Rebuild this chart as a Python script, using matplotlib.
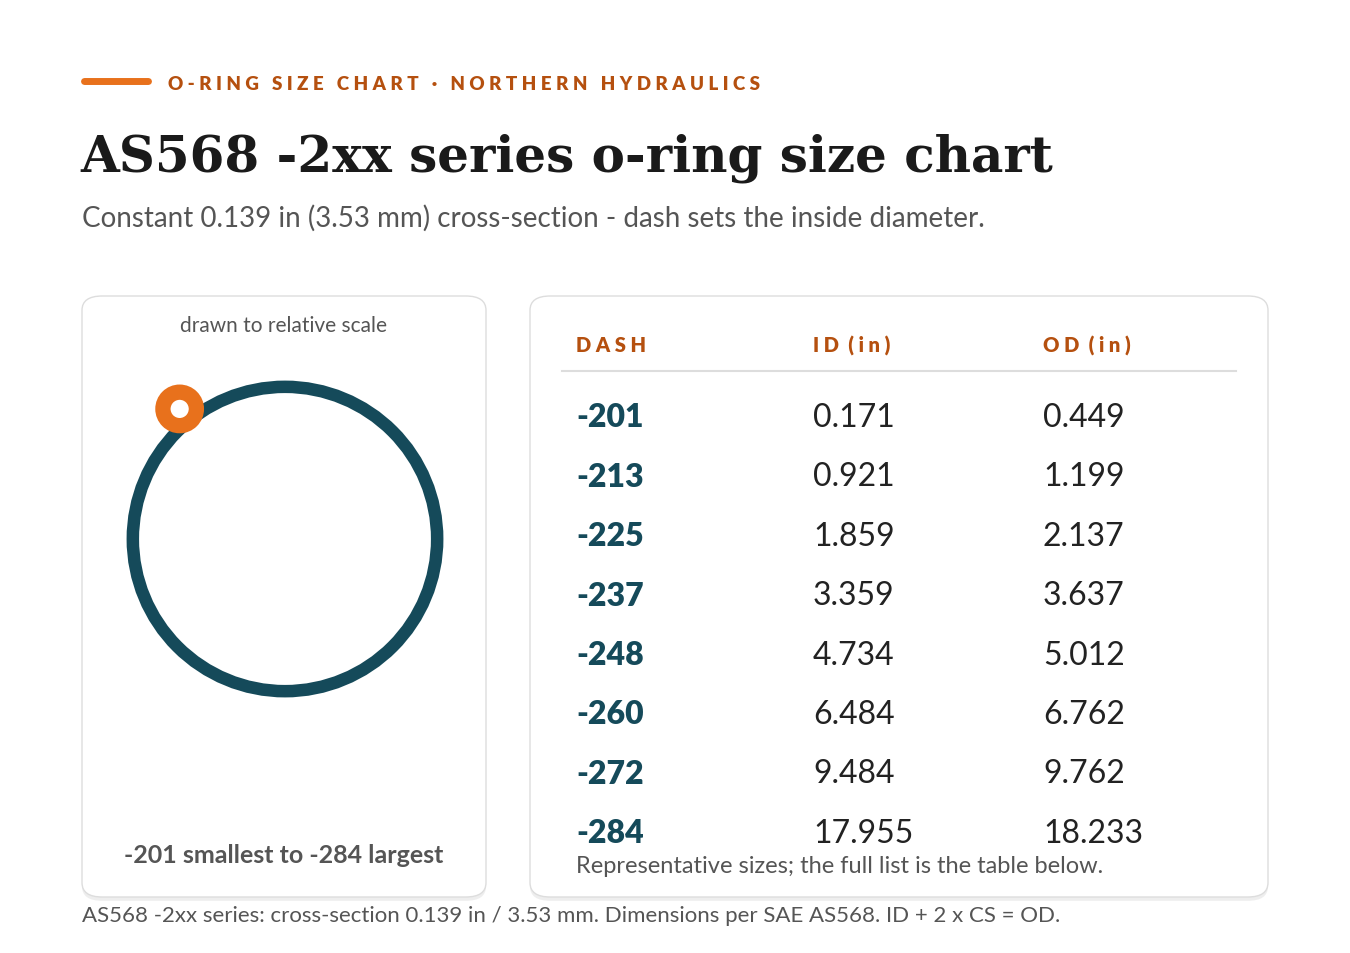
import numpy as np
import matplotlib
matplotlib.use("Agg")
import matplotlib.pyplot as plt
from matplotlib.patches import FancyBboxPatch, Circle

# ── Data ──────────────────────────────────────────────────────────────
DASH  = ["-201", "-213", "-225", "-237", "-248", "-260", "-272", "-284"]
ID_IN = ["0.171", "0.921", "1.859", "3.359", "4.734", "6.484", "9.484", "17.955"]
OD_IN = ["0.449", "1.199", "2.137", "3.637", "5.012", "6.762", "9.762", "18.233"]
HEADERS = ["DASH", "ID (in)", "OD (in)"]

ORANGE = "#E8711C"
RUST   = "#B5500F"
TEAL   = "#154A5A"
GREY   = "#555555"

W, H = 1350, 954
fig = plt.figure(figsize=(W / 100, H / 100), dpi=100)
fig.patch.set_facecolor("white")


def fx(x): return x / W
def fy(y): return 1 - y / H


def txt(x, y, s, **kw):
    fig.text(fx(x), fy(y), s, **kw)


# ── Header ────────────────────────────────────────────────────────────
fig.add_artist(plt.Line2D([fx(84), fx(148)], [fy(82), fy(82)], color=ORANGE,
                          lw=5, solid_capstyle="round"))
txt(168, 85, "O - R I N G   S I Z E   C H A R T   ·   N O R T H E R N   H Y D R A U L I C S",
    fontsize=13.5, color=RUST, fontweight="heavy", family="Lato", va="center")
txt(80, 158, "AS568 -2xx series o-ring size chart", fontsize=36, fontweight="bold",
    family="DejaVu Serif", va="center", color="#1a1a1a")
txt(82, 218, "Constant 0.139 in (3.53 mm) cross-section - dash sets the inside diameter.",
    fontsize=20, color=GREY, family="Lato", va="center")


def card(x0, y0, x1, y1):
    sh = FancyBboxPatch((fx(x0), fy(y1) - 0.004), fx(x1 - x0), (y1 - y0) / H,
                        boxstyle="round,pad=0,rounding_size=0.015",
                        transform=fig.transFigure, fc="#eeeeee", ec="none", zorder=0)
    fig.add_artist(sh)
    p = FancyBboxPatch((fx(x0), fy(y1)), fx(x1 - x0), (y1 - y0) / H,
                       boxstyle="round,pad=0,rounding_size=0.015",
                       transform=fig.transFigure, fc="white", ec="#dddddd", lw=1, zorder=1)
    fig.add_artist(p)


card(82, 297, 486, 898)
card(530, 297, 1268, 898)

# ── Left card: ring ───────────────────────────────────────────────────
txt(284, 326, "drawn to relative scale", fontsize=15, color=GREY, family="Lato",
    ha="center", va="center")
ax = fig.add_axes([fx(110), fy(720), fx(460 - 110), (720 - 360) / H], zorder=5)
ax.set_xlim(-1.15, 1.15)
ax.set_ylim(-1.15, 1.15)
ax.set_aspect("equal")
ax.axis("off")
ax.patch.set_alpha(0)
ax.add_patch(Circle((0, 0), 1.0, fill=False, ec=TEAL, lw=9, zorder=2))
ang = np.deg2rad(129)
ax.add_patch(Circle((1.1 * np.cos(ang), 1.1 * np.sin(ang)), 0.11, fc="white",
                    ec=ORANGE, lw=11, zorder=3))
txt(284, 856, f"{DASH[0]} smallest to {DASH[-1]} largest", fontsize=18, color=GREY,
    family="Lato", fontweight="bold", ha="center", va="center")

# ── Right card: table ─────────────────────────────────────────────────
cols = [576, 813, 1043]
for x, h in zip(cols, HEADERS):
    txt(x, 346, " ".join(h).replace("   ", "  "), fontsize=14.5, color=RUST,
        fontweight="heavy", family="Lato", va="center")
fig.add_artist(plt.Line2D([fx(562), fx(1236)], [fy(372), fy(372)], color="#dddddd", lw=1.5))
for i, (d, a, b) in enumerate(zip(DASH, ID_IN, OD_IN)):
    y = 418 + i * 59.4
    txt(cols[0], y, d, fontsize=23, color=TEAL, fontweight="heavy", family="Lato", va="center")
    txt(cols[1], y, a, fontsize=23, color="#222222", family="Lato", va="center")
    txt(cols[2], y, b, fontsize=23, color="#222222", family="Lato", va="center")
txt(576, 867, "Representative sizes; the full list is the table below.", fontsize=17,
    color=GREY, family="Lato", va="center")

txt(82, 916, "AS568 -2xx series: cross-section 0.139 in / 3.53 mm. Dimensions per SAE AS568. ID + 2 x CS = OD.",
    fontsize=16, color=GREY, family="Lato", va="center")

fig.savefig("out.png", dpi=100)
